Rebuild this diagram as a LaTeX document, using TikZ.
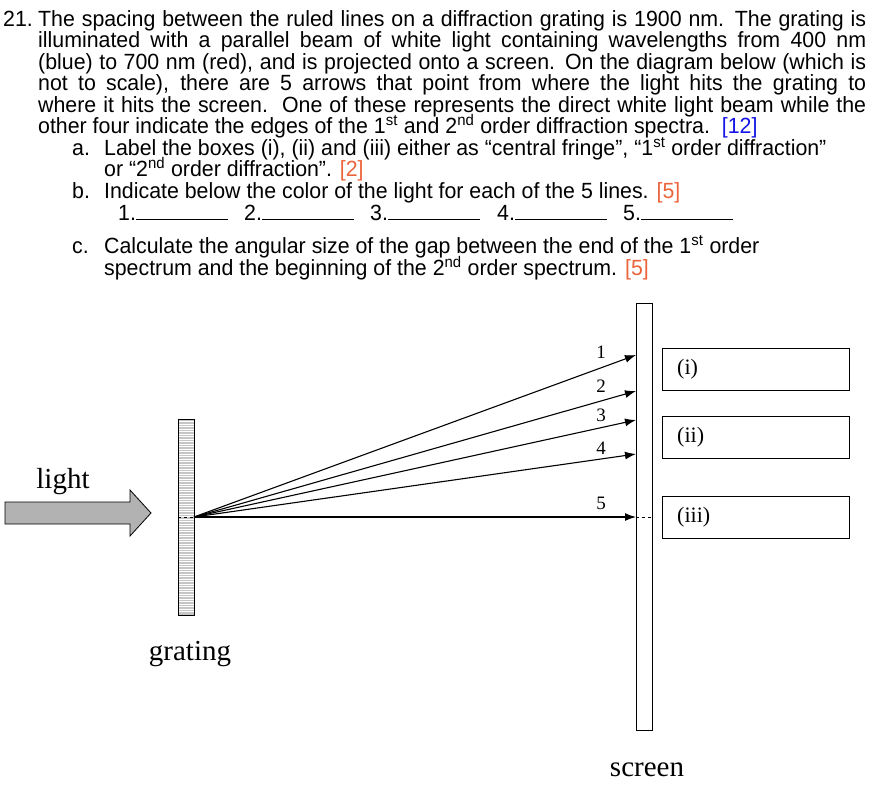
\documentclass[tikz,border=0pt]{standalone}
\usepackage{fontspec}
\setmainfont{Liberation Serif}
\newfontfamily\qf[FakeStretch=0.97]{Liberation Sans}
\usetikzlibrary{arrows.meta}
\definecolor{mkblue}{RGB}{20,20,230}
\definecolor{mkred}{RGB}{235,100,60}
\begin{document}
\begin{tikzpicture}[x=1pt,y=-1pt,
  qline/.style={anchor=base west,inner sep=0pt,font=\qf\fontsize{22}{23}\selectfont},
  ray/.style={-{Latex[length=11pt,width=8pt]},line width=1.1pt},
  lbl/.style={font=\fontsize{19}{19}\selectfont,inner sep=0pt},
  box/.style={draw,line width=0.8pt,minimum width=187pt,minimum height=42pt,anchor=north west,inner sep=0pt},
  boxtxt/.style={font=\fontsize{22}{22}\selectfont,anchor=west,inner sep=0pt},
  big/.style={font=\fontsize{29}{29}\selectfont,inner sep=0pt}]
\useasboundingbox (0,0) rectangle (870,785);
\newcommand{\st}{\textsuperscript{st}}
\newcommand{\nd}{\textsuperscript{nd}}
% text
\node[qline] (n21) at (3,26) {21.};
\node[qline] (l1) at (38,26) {\makebox[828pt][s]{The spacing between the ruled lines on a diffraction grating is 1900 nm. The grating is}};
\node[qline] (l2) at (38,47.5) {\makebox[828pt][s]{illuminated with a parallel beam of white light containing wavelengths from 400 nm}};
\node[qline] (l3) at (38,69) {\makebox[828pt][s]{(blue) to 700 nm (red), and is projected onto a screen. On the diagram below (which is}};
\node[qline] (l4) at (38,90.5) {\makebox[828pt][s]{not to scale), there are 5 arrows that point from where the light hits the grating to}};
\node[qline] (l5) at (38,112) {\makebox[828pt][s]{where it hits the screen.\ \ One of these represents the direct white light beam while the}};
\node[qline] (l6) at (38,133.5) {other four indicate the edges of the 1\st\ and 2\nd\ order diffraction spectra.\ \ {\color{mkblue}[12]}};
\node[qline] (ia) at (72,155) {a.};
\node[qline] (a1) at (104,155) {Label the boxes (i), (ii) and (iii) either as “central fringe”, “1\st\ order diffraction”};
\node[qline] (a2) at (104,176.5) {or “2\nd\ order diffraction”. {\color{mkred}[2]}};
\node[qline] (ib) at (72,198) {b.};
\node[qline] (b1) at (104,198) {Indicate below the color of the light for each of the 5 lines. {\color{mkred}[5]}};
\node[qline] (bl1) at (118,220) {1.\rule{92pt}{0.7pt}};
\node[qline] (bl2) at (244,220) {2.\rule{92pt}{0.7pt}};
\node[qline] (bl3) at (370,220) {3.\rule{92pt}{0.7pt}};
\node[qline] (bl4) at (497,220) {4.\rule{92pt}{0.7pt}};
\node[qline] (bl5) at (623,220) {5.\rule{92pt}{0.7pt}};
\node[qline] (ic) at (72,253) {c.};
\node[qline] (c1) at (104,253) {Calculate the angular size of the gap between the end of the 1\st\ order};
\node[qline] (c2) at (104,275) {spectrum and the beginning of the 2\nd\ order spectrum. {\color{mkred}[5]}};
% light arrow
\draw[fill=gray!60,line width=0.8pt] (5,502) -- (130,502) -- (130,490) -- (151,513) -- (130,536) -- (130,524) -- (5,524) -- cycle;
\node[big] (light) at (63,482) {light};
% grating
\draw[fill=gray!45,line width=0.8pt] (178,419) rectangle (194,615);
\foreach \yy in {421.5,424,...,613} \draw[white,line width=0.6pt] (178.5,\yy) -- (193.5,\yy);
\draw[line width=0.8pt] (178,419) rectangle (194,615);
\draw[dashed,line width=0.8pt] (178,517) -- (194,517);
\coordinate (src) at (194,517);
\node[big] (grating) at (190,654) {grating};
% screen
\draw[line width=1pt,fill=white] (636,303) rectangle (652,730);
\node[big] (screen) at (647,770) {screen};
\coordinate (e1) at (636,355);
\coordinate (e2) at (636,391);
\coordinate (e3) at (636,420);
\coordinate (e4) at (636,454);
\coordinate (e5) at (636,517);
\foreach \i in {1,...,5} \draw[ray] (src) -- (e\i);
\draw[dashed,line width=0.8pt] (e5) -- (652,517);
\node[lbl] (t1) at (601,352) {1};
\node[lbl] (t2) at (601,386) {2};
\node[lbl] (t3) at (601,415) {3};
\node[lbl] (t4) at (601,448) {4};
\node[lbl] (t5) at (601,503) {5};
% boxes
\node[box] (bi) at (662,348) {};
\node[box] (bii) at (662,416) {};
\node[box] (biii) at (662,496) {};
\node[boxtxt] at ([xshift=15pt]bi.west) {(i)};
\node[boxtxt] at ([xshift=15pt]bii.west) {(ii)};
\node[boxtxt] at ([xshift=15pt]biii.west) {(iii)};
\end{tikzpicture}
\end{document}
